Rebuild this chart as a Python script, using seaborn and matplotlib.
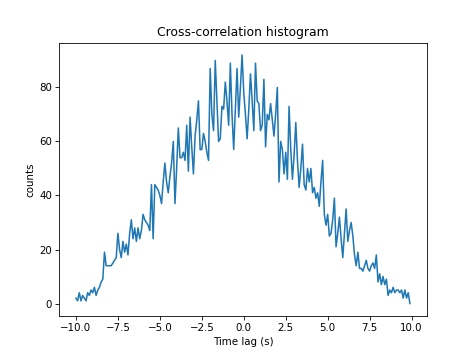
import numpy as np
import pandas as pd
import seaborn as sns
import matplotlib
matplotlib.use("Agg")
import matplotlib.pyplot as plt

# time lags in seconds, 0.1 s bins
lags = np.round(np.arange(-10, 10, 0.1), 1)

# counts
counts = [
    2, 1, 4, 1, 3, 2, 1, 4, 3, 5,
    4, 6, 3, 5, 6, 8, 9, 19, 14, 14,
    14, 14, 15, 16, 17, 26, 20, 17, 23, 19,
    22, 18, 26, 31, 24, 28, 23, 28, 24, 27,
    33, 31, 30, 29, 27, 44, 24, 44, 43, 42,
    40, 37, 45, 52, 45, 41, 47, 52, 60, 37,
    50, 65, 54, 54, 56, 53, 66, 49, 69, 58,
    48, 62, 68, 75, 57, 57, 63, 60, 56, 53,
    87, 70, 64, 90, 75, 60, 61, 73, 72, 82,
    75, 66, 89, 70, 57, 72, 87, 69, 80, 92,
    78, 70, 61, 72, 85, 75, 64, 89, 75, 74,
    64, 66, 83, 58, 70, 68, 74, 68, 62, 70,
    80, 45, 60, 57, 48, 56, 46, 73, 57, 46,
    55, 67, 53, 43, 50, 59, 44, 42, 50, 45,
    50, 41, 43, 39, 41, 36, 45, 53, 33, 29,
    33, 25, 26, 31, 39, 21, 26, 32, 24, 17,
    26, 35, 23, 27, 30, 25, 18, 14, 19, 13,
    13, 12, 14, 16, 13, 12, 14, 15, 13, 18,
    8, 11, 7, 10, 7, 9, 3, 5, 4, 6,
    4, 5, 5, 4, 5, 2, 5, 2, 4, 0,
]

df = pd.DataFrame({"lag": lags, "counts": counts})

fig, ax = plt.subplots(figsize=(474 / 74, 355 / 74), dpi=74)
sns.lineplot(x="lag", y="counts", data=df, ax=ax, color="#1f77b4", linewidth=1.5)

ax.set_title("Cross-correlation histogram")
ax.set_xlabel("Time lag (s)")
ax.set_ylabel("counts")

plt.savefig("out.png", dpi=74)
